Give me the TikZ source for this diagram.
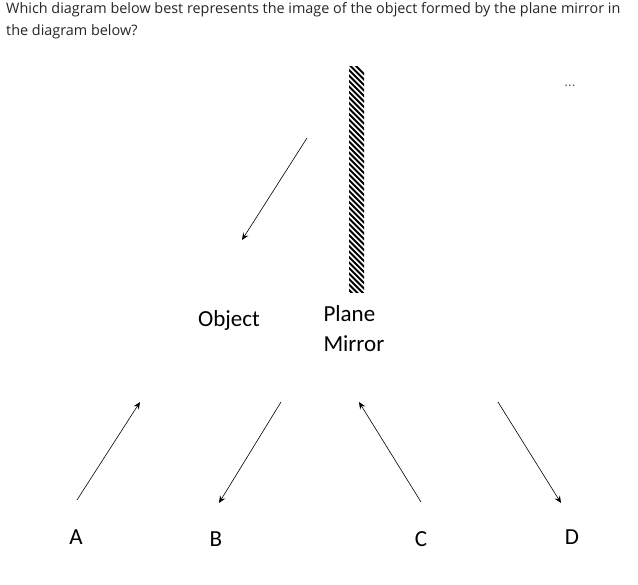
\documentclass[tikz,border=0pt]{standalone}
\usepackage{fontspec}
\setmainfont{Carlito}
\newfontfamily\qfont{Open Sans}
\usetikzlibrary{arrows.meta}
\begin{document}
\begin{tikzpicture}[x=1pt,y=-1pt,
  ray/.style={line width=0.6pt,-{Stealth[length=7pt,width=6pt]}},
  lab/.style={font=\fontsize{23}{27}\selectfont}]
\useasboundingbox (0,0) rectangle (638,585);
\node[anchor=west,inner sep=0pt,font=\qfont\fontsize{14.4}{17}\selectfont,text=black!85] (q1) at (6,10) {Which diagram below best represents the image of the object formed by the plane mirror in};
\node[anchor=west,inner sep=0pt,font=\qfont\fontsize{14.4}{17}\selectfont,text=black!85] (q2) at (6,32) {the diagram below?};
\node[font=\qfont\fontsize{14}{16}\selectfont,text=black!60] (dots) at (570,86) {...};
% mirror
\begin{scope}
\clip (349,67) rectangle (364,293);
\foreach \i in {0,5.5,...,260}{\draw[line width=1.9pt] (345,55+\i) -- (370,80+\i);}
\end{scope}
\coordinate (o1) at (307,138); \coordinate (o2) at (242,240);
\draw[ray] (o1) -- (o2);
\coordinate (a1) at (77,500); \coordinate (a2) at (140,402);
\draw[ray] (a1) -- (a2);
\coordinate (b1) at (281,402); \coordinate (b2) at (219,503);
\draw[ray] (b1) -- (b2);
\coordinate (c1) at (421,502); \coordinate (c2) at (359,402);
\draw[ray] (c1) -- (c2);
\coordinate (d1) at (498,402); \coordinate (d2) at (561,503);
\draw[ray] (d1) -- (d2);
\node[lab] (obj) at (229,320) {Object};
\node[lab,anchor=west] (pl) at (320,314) {Plane};
\node[lab,anchor=west] (mi) at (320,344) {Mirror};
\node[lab] (A) at (76,537) {A};
\node[lab] (B) at (216,539) {B};
\node[lab] (C) at (421,539) {C};
\node[lab] (D) at (572,537) {D};
\end{tikzpicture}
\end{document}
